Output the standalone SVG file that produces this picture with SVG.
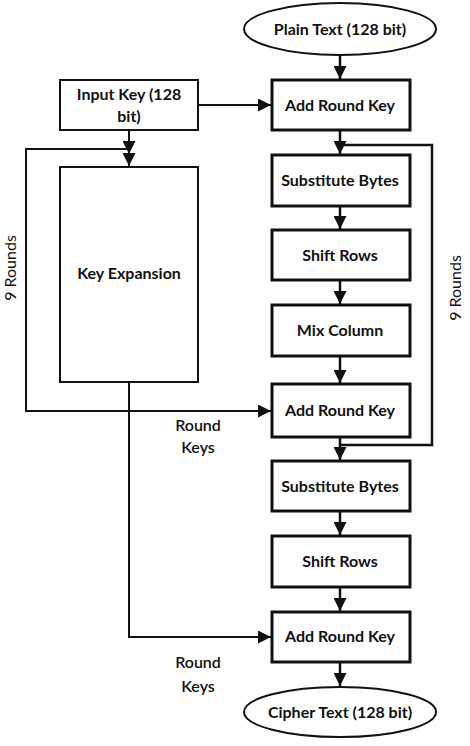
<svg xmlns="http://www.w3.org/2000/svg" width="470" height="746" viewBox="0 0 470 746">
<style>
.bx{fill:#fff;stroke:#111;stroke-width:3}
.thin{fill:#fff;stroke:#111;stroke-width:2}
.t{font-family:Lato,"Liberation Sans",sans-serif;font-weight:700;font-size:16px;fill:#111;text-anchor:middle}
.l{font-family:Lato,"Liberation Sans",sans-serif;font-weight:600;font-size:16px;fill:#111;text-anchor:middle}
.r{font-family:Lato,"Liberation Sans",sans-serif;font-weight:400;font-size:16px;fill:#111;text-anchor:middle}
.c{fill:none;stroke:#111;stroke-width:2.5}
.c2{fill:none;stroke:#111;stroke-width:2}
</style>
<defs>
<marker id="ah" viewBox="0 0 10 10" refX="10" refY="5" markerWidth="5.2" markerHeight="5.2" markerUnits="strokeWidth" orient="auto">
<path d="M0,0L10,5L0,10z" fill="#111"/>
</marker>
<marker id="ah2" viewBox="0 0 10 10" refX="10" refY="5" markerWidth="6.5" markerHeight="6.5" markerUnits="strokeWidth" orient="auto">
<path d="M0,0L10,5L0,10z" fill="#111"/>
</marker>
</defs>
<g id="connectors">
<line class="c" x1="340" y1="56" x2="340" y2="79" marker-end="url(#ah)"/>
<line class="c2" x1="198" y1="105" x2="271" y2="105" marker-end="url(#ah2)"/>
<line class="c" x1="340" y1="131" x2="340" y2="154" marker-end="url(#ah)"/>
<polyline class="c" points="340,445 432,445 432,145 340,145"/>
<line class="c" x1="340" y1="207" x2="340" y2="229" marker-end="url(#ah)"/>
<line class="c" x1="340" y1="281" x2="340" y2="304" marker-end="url(#ah)"/>
<line class="c" x1="340" y1="357" x2="340" y2="383" marker-end="url(#ah)"/>
<line class="c" x1="340" y1="438" x2="340" y2="460" marker-end="url(#ah)"/>
<line class="c" x1="340" y1="512" x2="340" y2="535" marker-end="url(#ah)"/>
<line class="c" x1="340" y1="588" x2="340" y2="611" marker-end="url(#ah)"/>
<line class="c" x1="340" y1="663" x2="340" y2="686" marker-end="url(#ah)"/>
<line class="c2" x1="129" y1="131" x2="129" y2="154" marker-end="url(#ah2)"/>
<line class="c2" x1="129" y1="149" x2="129" y2="166" marker-end="url(#ah2)"/>
<polyline class="c2" points="129,149 26,149 26,411 271,411" marker-end="url(#ah2)"/>
<polyline class="c2" points="129,382 129,637 271,637" marker-end="url(#ah2)"/>
</g>
<g id="plain"><ellipse class="thin" cx="340" cy="29" rx="96" ry="26"/><text class="t" x="340" y="35">Plain Text (128 bit)</text></g>
<g id="inputkey"><rect class="thin" x="60" y="80" width="138" height="50"/><text class="t" x="129" y="100">Input Key (128</text><text class="t" x="129" y="122">bit)</text></g>
<g id="keyexp"><rect class="thin" x="60" y="167" width="138" height="215"/><text class="t" x="129" y="279">Key Expansion</text></g>
<g id="ark1"><rect class="bx" x="272" y="80" width="138" height="50"/><text class="t" x="340" y="111">Add Round Key</text></g>
<g id="sb1"><rect class="bx" x="272" y="155" width="138" height="51"/><text class="t" x="340" y="186">Substitute Bytes</text></g>
<g id="sr1"><rect class="bx" x="272" y="230" width="138" height="50"/><text class="t" x="340" y="261">Shift Rows</text></g>
<g id="mc"><rect class="bx" x="272" y="305" width="138" height="51"/><text class="t" x="340" y="336">Mix Column</text></g>
<g id="ark2"><rect class="bx" x="272" y="384" width="138" height="53"/><text class="t" x="340" y="416">Add Round Key</text></g>
<g id="sb2"><rect class="bx" x="272" y="461" width="138" height="50"/><text class="t" x="340" y="492">Substitute Bytes</text></g>
<g id="sr2"><rect class="bx" x="272" y="536" width="138" height="51"/><text class="t" x="340" y="567">Shift Rows</text></g>
<g id="ark3"><rect class="bx" x="272" y="612" width="138" height="50"/><text class="t" x="340" y="642">Add Round Key</text></g>
<g id="cipher"><ellipse class="thin" cx="340" cy="712" rx="96" ry="25"/><text class="t" x="340" y="718">Cipher Text (128 bit)</text></g>
<g id="labels">
<text class="l" x="198" y="431">Round</text><text class="l" x="198" y="453">Keys</text>
<text class="l" x="198" y="668">Round</text><text class="l" x="198" y="692">Keys</text>
<text class="r" transform="translate(16,268) rotate(-90)">9 Rounds</text>
<text class="r" transform="translate(461,288) rotate(-90)">9 Rounds</text>
</g>
</svg>
